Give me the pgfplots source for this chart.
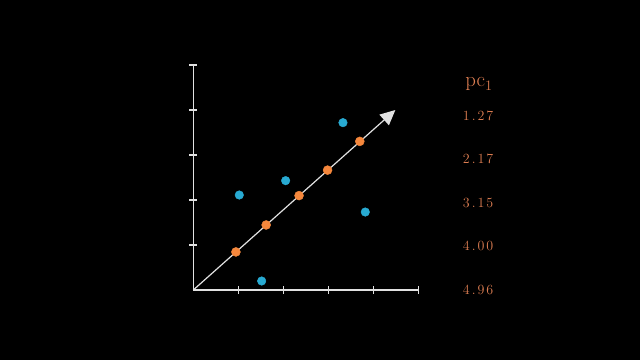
\documentclass[border=0pt]{standalone}
\usepackage{pgfplots}
\pgfplotsset{compat=1.18}
\usetikzlibrary{arrows.meta}
\definecolor{myorange}{RGB}{245,135,60}
\definecolor{myblue}{RGB}{40,170,210}
\definecolor{txtorange}{RGB}{222,126,82}
\definecolor{axgray}{RGB}{225,225,225}
\newcommand{\numfont}{\fontsize{14}{14}\selectfont}
\newcommand{\g}{\kern2pt}
\begin{document}
\begin{tikzpicture}[x=1pt,y=1pt]
\fill[black] (0,0) rectangle (640,360);
\begin{axis}[
  at={(193.3pt,70pt)}, anchor=south west,
  scale only axis, width=225pt, height=225pt,
  xmin=0, xmax=5, ymin=0, ymax=5,
  axis lines*=left,
  axis line style={axgray, line width=1.2pt},
  xtick={1,2,3,4,5}, ytick={1,2,3,4,5},
  xticklabels={}, yticklabels={},
  tick align=center, major tick length=8pt,
  tick style={axgray, line width=1.2pt},
  clip=false,
]
\addplot[axgray, line width=1.2pt, -{Triangle[length=15pt,width=14pt]}] coordinates {(0,0) (4.49,4.0)};
\addplot[only marks, mark=*, mark size=4.3pt, myblue, mark options={draw=none, fill=myblue}] coordinates {
(1.519,0.200) (1.022,2.111) (2.052,2.430) (3.822,1.733) (3.326,3.719)};
\addplot[only marks, mark=*, mark size=4.5pt, myorange, mark options={draw=none, fill=myorange}] coordinates {
(0.947,0.846) (1.619,1.445) (2.350,2.098) (2.984,2.664) (3.700,3.303)};
\node[anchor=base, txtorange, font=\fontsize{21}{21}\selectfont] at (axis cs:6.35,4.53) {$\mathrm{pc}_1$};
\node[anchor=center, txtorange, font=\numfont] at (axis cs:6.33,3.867) {1\g.\g2\g7};
\node[anchor=center, txtorange, font=\numfont] at (axis cs:6.33,2.911) {2\g.\g1\g7};
\node[anchor=center, txtorange, font=\numfont] at (axis cs:6.33,1.933) {3\g.\g1\g5};
\node[anchor=center, txtorange, font=\numfont] at (axis cs:6.33,0.978) {4\g.\g0\g0};
\node[anchor=center, txtorange, font=\numfont] at (axis cs:6.33,0.000) {4\g.\g9\g6};
\end{axis}
\end{tikzpicture}
\end{document}
